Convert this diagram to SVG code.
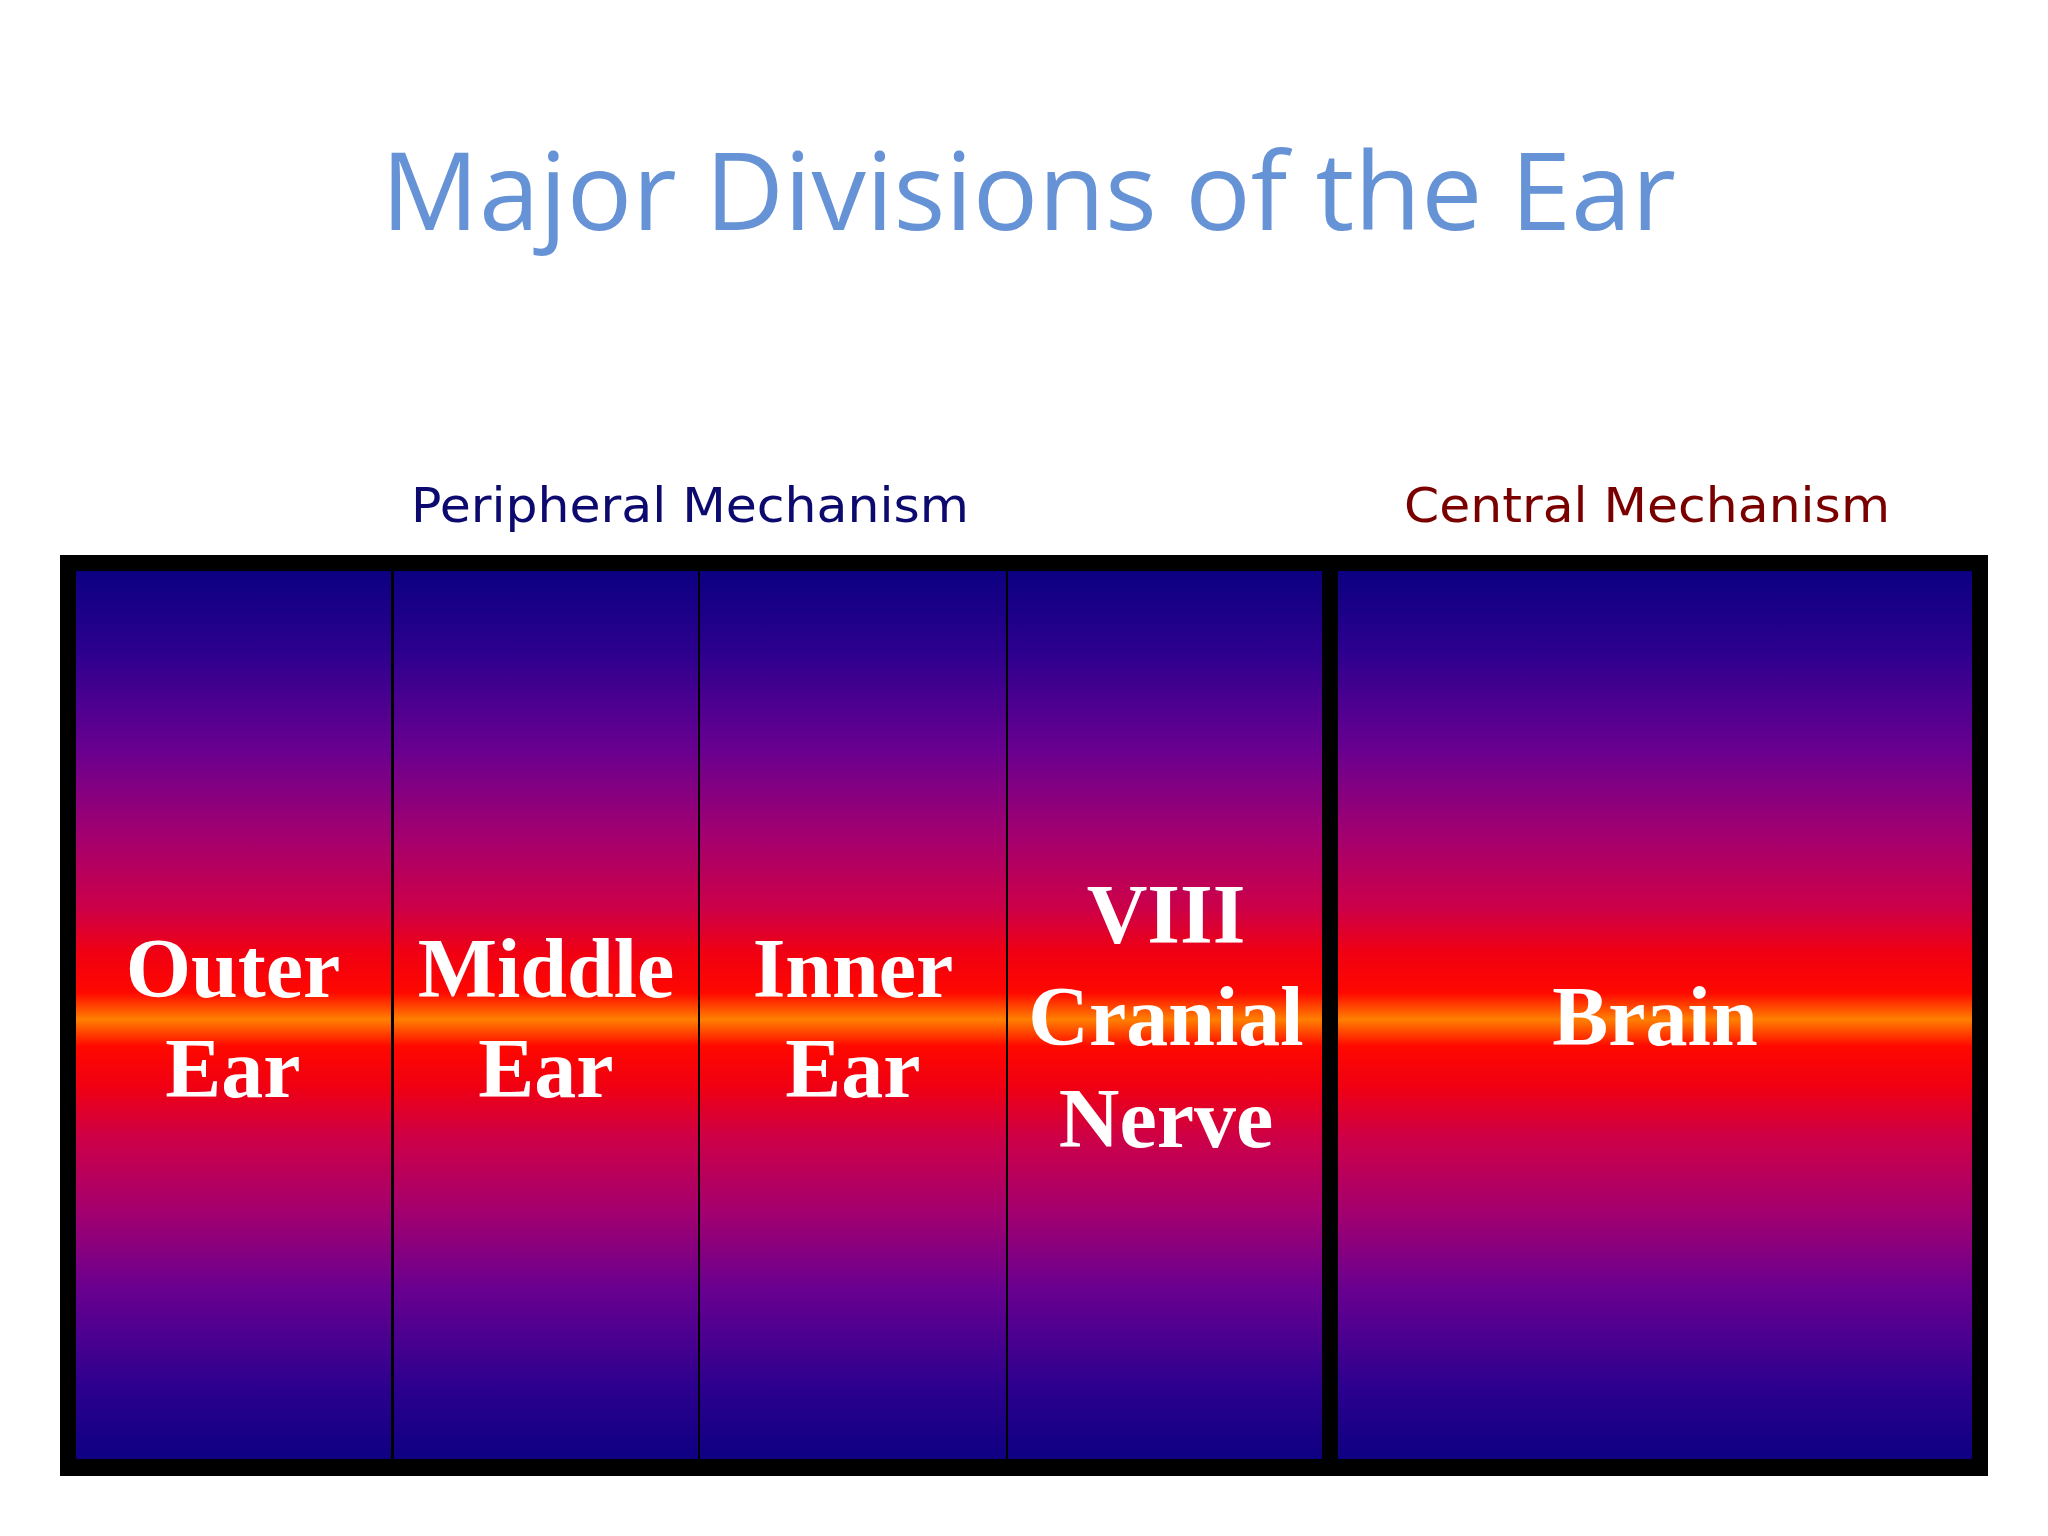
<svg xmlns="http://www.w3.org/2000/svg" width="2048" height="1536" viewBox="0 0 2048 1536">
  <defs>
    <linearGradient id="fire" x1="0" y1="0" x2="0" y2="1">
      <stop offset="0" stop-color="#0c0082"/>
      <stop offset="0.09" stop-color="#2c008e"/>
      <stop offset="0.2" stop-color="#680090"/>
      <stop offset="0.3" stop-color="#a4006e"/>
      <stop offset="0.38" stop-color="#cc0048"/>
      <stop offset="0.43" stop-color="#f00012"/>
      <stop offset="0.475" stop-color="#ff0800"/>
      <stop offset="0.505" stop-color="#ff8000"/>
      <stop offset="0.535" stop-color="#ff0800"/>
      <stop offset="0.58" stop-color="#f00012"/>
      <stop offset="0.64" stop-color="#cc0048"/>
      <stop offset="0.72" stop-color="#a4006e"/>
      <stop offset="0.81" stop-color="#680090"/>
      <stop offset="0.92" stop-color="#2c008e"/>
      <stop offset="1" stop-color="#0e0082"/>
    </linearGradient>
    <style>
      .cell { fill: url(#fire); }
      .lbl { font-family: "Liberation Serif", "Times New Roman", serif; font-weight: bold; font-size: 84px; fill: #ffffff; text-anchor: middle; }
      .title { font-family: "Open Sans", "Liberation Sans", sans-serif; font-size: 108px; fill: #6692d6; }
      .mech { font-family: "DejaVu Sans", "Liberation Sans", sans-serif; font-size: 48px; }
    </style>
  </defs>
  <rect x="0" y="0" width="2048" height="1536" fill="#ffffff"/>

  <text class="title" x="381" y="230" textLength="1295" lengthAdjust="spacingAndGlyphs">Major Divisions of the Ear</text>
  <text class="mech" x="411" y="522" fill="#0c0a6e" textLength="558" lengthAdjust="spacingAndGlyphs">Peripheral Mechanism</text>
  <text class="mech" x="1404" y="522" fill="#7a0000" textLength="486" lengthAdjust="spacingAndGlyphs">Central Mechanism</text>

  <g id="outer-frame">
    <rect x="60" y="555" width="1928" height="921" fill="#000000"/>
  </g>

  <g id="outer-ear">
    <rect class="cell" x="76" y="571" width="315" height="888"/>
    <text class="lbl" x="233" y="997">Outer</text>
    <text class="lbl" x="233" y="1097">Ear</text>
  </g>
  <g id="middle-ear">
    <rect class="cell" x="394" y="571" width="304" height="888"/>
    <text class="lbl" x="546" y="997">Middle</text>
    <text class="lbl" x="546" y="1097">Ear</text>
  </g>
  <g id="inner-ear">
    <rect class="cell" x="700" y="571" width="306" height="888"/>
    <text class="lbl" x="853" y="997">Inner</text>
    <text class="lbl" x="853" y="1097">Ear</text>
  </g>
  <g id="cranial-nerve">
    <rect class="cell" x="1008" y="571" width="314" height="888"/>
    <text class="lbl" x="1166" y="943">VIII</text>
    <text class="lbl" x="1166" y="1045">Cranial</text>
    <text class="lbl" x="1166" y="1147">Nerve</text>
  </g>
  <g id="brain">
    <rect class="cell" x="1338" y="571" width="634" height="888"/>
    <text class="lbl" x="1655" y="1045">Brain</text>
  </g>

  <g id="connectors"></g>
</svg>
